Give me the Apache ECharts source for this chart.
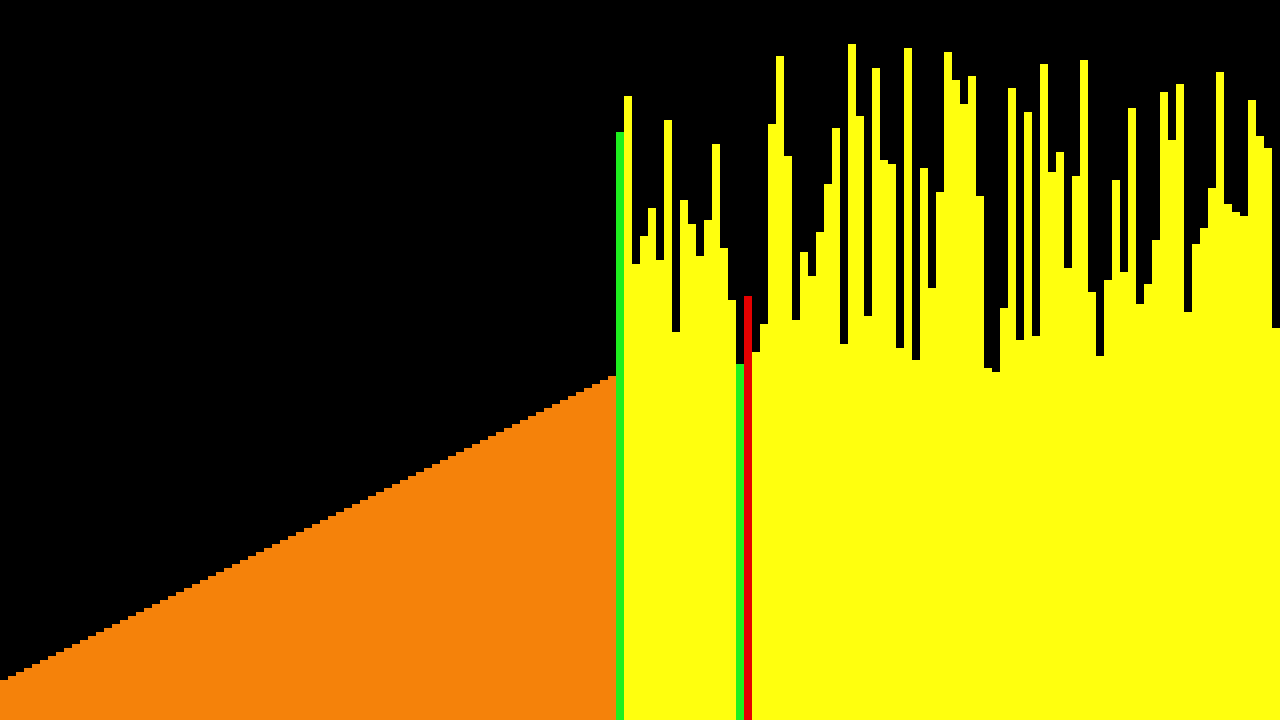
<!DOCTYPE html>
<html>
<head>
<meta charset="utf-8">
<style>
html,body{margin:0;padding:0;background:#000;}
#chart{width:1280px;height:720px;}
</style>
<script src="https://cdn.jsdelivr.net/npm/echarts@6/dist/echarts.min.js"></script>
</head>
<body>
<div id="chart"></div>
<script>
// Sorted (orange) part
const sortedValues = [10,11,12,13,14,15,16,17,18,19,20,21,22,23,24,25,26,27,28,29,
  30,31,32,33,34,35,36,37,38,39,40,41,42,43,44,45,46,47,48,49,
  50,51,52,53,54,55,56,57,58,59,60,61,62,63,64,65,66,67,68,69,
  70,71,72,73,74,75,76,77,78,79,80,81,82,83,84,85,86];
// Unsorted part (starts at index 77)
const unsortedValues = [147,156,114,121,128,115,150,97,130,124,116,125,144,118,105,89,106,92,99,149,
  166,141,100,117,111,122,134,148,94,169,151,101,163,140,139,93,168,90,138,108,
  132,167,160,154,161,131,88,87,103,158,95,152,96,164,137,142,113,136,165,107,
  91,110,135,112,153,104,109,120,157,145,159,102,119,123,133,162,129,127,126,155,
  146,143,98];
const greenIndices = [77, 92];
const redIndices = [93];

const values = sortedValues.concat(unsortedValues);
const categories = values.map((_, i) => String(i));

const ORANGE = '#F5820A', YELLOW = '#FFFF0E', GREEN = '#1EF01E', RED = '#E60000';

const data = values.map((v, i) => {
  let c = YELLOW;
  if (i < sortedValues.length) c = ORANGE;
  if (greenIndices.includes(i)) c = GREEN;
  if (redIndices.includes(i)) c = RED;
  return { value: v, itemStyle: { color: c } };
});

const chart = echarts.init(document.getElementById('chart'), null, { renderer: 'canvas' });
chart.setOption({
  backgroundColor: '#000000',
  animation: false,
  grid: { left: 0, right: 0, top: 0, bottom: 0, containLabel: false },
  xAxis: { type: 'category', data: categories, show: false, boundaryGap: true },
  yAxis: { type: 'value', min: 0, max: 180, show: false, splitLine: { show: false } },
  series: [{
    type: 'bar',
    data: data,
    barCategoryGap: '0%',
    barGap: '0%',
    itemStyle: { borderWidth: 0 }
  }]
});
</script>
</body>
</html>
